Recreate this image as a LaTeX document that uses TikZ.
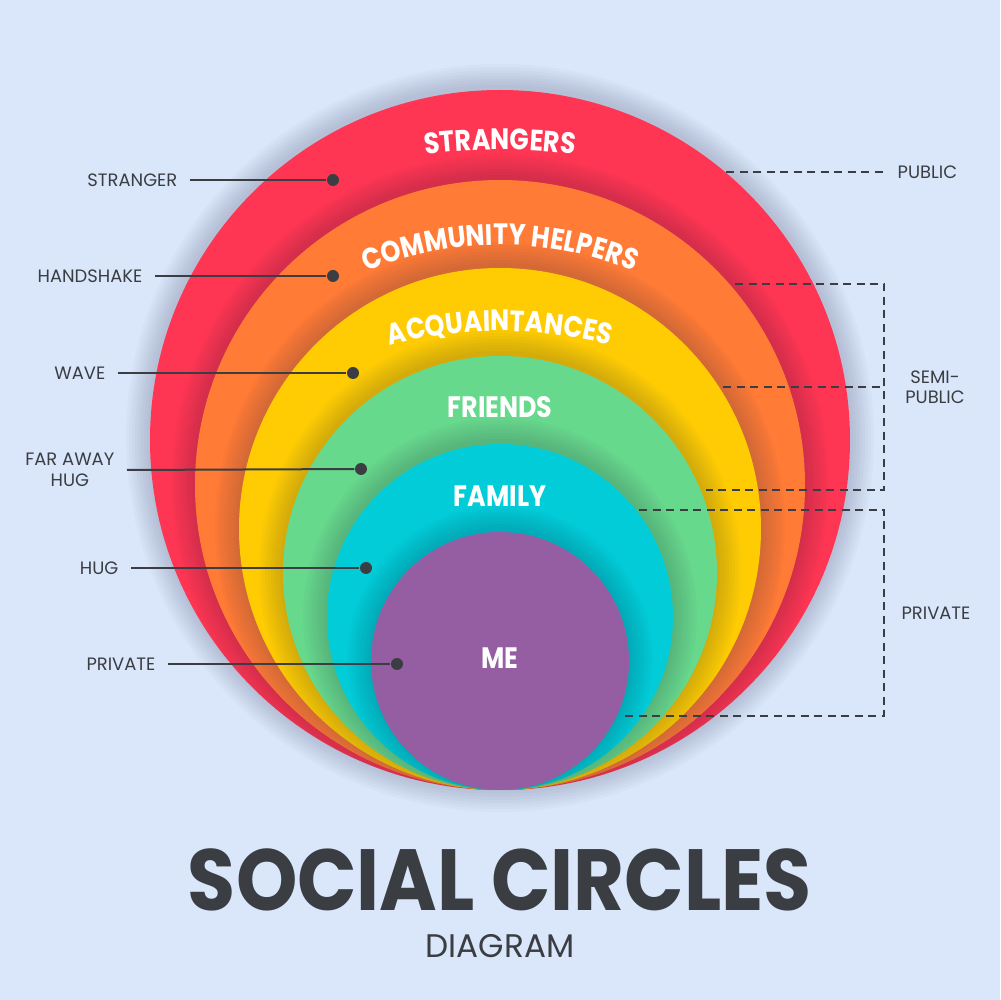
\documentclass[tikz,border=0pt]{standalone}
\usepackage{fontspec}
\setmainfont{Poppins}
\newfontfamily\labfont{Poppins}
\newfontfamily\headfont{Poppins}[FakeStretch=0.86]
\newfontfamily\ttlfont{Poppins}[FakeStretch=0.9]
\usetikzlibrary{decorations.text}
\definecolor{bgc}{HTML}{DAE6FA}
\definecolor{cRed}{HTML}{FF3653}
\definecolor{cOrange}{HTML}{FF7B36}
\definecolor{cYellow}{HTML}{FFCC03}
\definecolor{cGreen}{HTML}{67D98C}
\definecolor{cCyan}{HTML}{02CCD8}
\definecolor{cPurple}{HTML}{955DA2}
\definecolor{ink}{HTML}{3A3E43}
\definecolor{shadowc}{HTML}{1A2040}
\newcommand\circfont{\headfont\bfseries\fontsize{8.4}{8.4}\selectfont}
\newcommand\rshadow[4]{%
  \begin{scope}
    \clip (500,#3) circle[radius=#4];
    \foreach \k in {3,6,...,24} \fill[shadowc, opacity=0.022] (500,#1+2) circle[radius=#2+\k];
  \end{scope}}
\tikzset{
  lab/.style={font=\labfont\fontsize{5.1}{5.8}\selectfont, text=ink, inner ysep=0pt, inner xsep=1.2mm, align=center},
  dotn/.style={circle, fill=ink, minimum size=1.2mm, inner sep=0pt},
  conn/.style={draw=ink, line width=0.2mm},
  dashln/.style={draw=ink, line width=0.13mm, dash pattern=on 0.8mm off 0.55mm},
  ringlab/.style={font=\circfont, text=white, anchor=base},
  curvlab/.style={decorate, decoration={text along path, text align=center, text color=white, text={|\circfont|#1}}}
}
\begin{document}
\begin{tikzpicture}[x=0.1mm,y=0.1mm]
\fill[bgc] (0,0) rectangle (1000,1000);
\useasboundingbox (0,0) rectangle (1000,1000);

% circles with soft shadows
\rshadow{560}{350}{500}{2000}
\fill[cRed] (500,560) circle[radius=350];
\rshadow{515}{305}{560}{350}
\fill[cOrange] (500,515) circle[radius=305];
\rshadow{471}{261}{515}{305}
\fill[cYellow] (500,471) circle[radius=261];
\rshadow{427}{217}{471}{261}
\fill[cGreen] (500,427) circle[radius=217];
\rshadow{383}{173}{427}{217}
\fill[cCyan] (500,383) circle[radius=173];
\rshadow{339}{129}{383}{173}
\fill[cPurple] (500,339) circle[radius=129];

% ring titles
\path[curvlab=STRANGERS] (500,250) ++(100:600) arc[start angle=100, end angle=80, radius=600];
\path[curvlab=COMMUNITY HELPERS] (500,405) ++(140:350) arc[start angle=140, end angle=40, radius=350];
\path[curvlab=ACQUAINTANCES] (500,239) ++(115:430) arc[start angle=115, end angle=65, radius=430];
\node[ringlab] (friends) at (500,582) {FRIENDS};
\node[ringlab] (family) at (500,493) {FAMILY};
\node[ringlab] (me) at (500,332) {ME};

% left labels
\node[lab, anchor=east] (l1) at (190,820) {STRANGER};
\node[lab, anchor=east] (l2) at (155,724) {HANDSHAKE};
\node[lab, anchor=east] (l3) at (118,627) {WAVE};
\node[lab, anchor=east] (l4) at (127,530) {FAR AWAY\\HUG};
\node[lab, anchor=east] (l5) at (131,432) {HUG};
\node[lab, anchor=east] (l6) at (168,336) {PRIVATE};
\node[dotn] (d1) at (333,820) {};
\node[dotn] (d2) at (333,724) {};
\node[dotn] (d3) at (353,627) {};
\node[dotn] (d4) at (361,531) {};
\node[dotn] (d5) at (366,432) {};
\node[dotn] (d6) at (397,336) {};
\foreach \i in {1,...,6} \draw[conn] (l\i.east) -- (d\i);

% right labels and brackets
\node[lab, anchor=west] (pub) at (885,828) {PUBLIC};
\coordinate (p0) at (726,828);
\draw[dashln] (p0) -- (pub.west);

\node[lab] (semi) at (935,613) {SEMI-\\PUBLIC};
\coordinate (s1) at (735,716);
\coordinate (s2) at (884,716);
\coordinate (s3) at (884,510);
\coordinate (s4) at (706,510);
\coordinate (s5) at (723,613);
\coordinate (s6) at (884,613);
\draw[dashln] (s1) -- (s2) -- (s3) -- (s4);
\draw[dashln] (s5) -- (s6);

\node[lab] (priv) at (936,387) {PRIVATE};
\coordinate (q1) at (639,490);
\coordinate (q2) at (884,490);
\coordinate (q3) at (884,284);
\coordinate (q4) at (621,284);
\draw[dashln] (q1) -- (q2) -- (q3) -- (q4);

% title
\node[anchor=base, text=ink, font=\ttlfont\bfseries\fontsize{24.7}{24.7}\selectfont] (title) at (500,90) {SOCIAL CIRCLES};
\node[anchor=base, text=ink, font=\labfont\fontsize{9.3}{9.3}\selectfont] (sub) at (500,43) {DIAGRAM};
\end{tikzpicture}
\end{document}
